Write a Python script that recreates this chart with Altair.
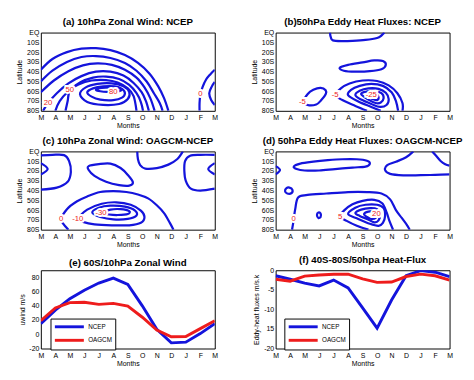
import json
import altair as alt
import pandas as pd

FONT = "Liberation Sans"
BLUE = "#1414dc"
RED = "#ee1c1c"

# ---------------- axes / categories ----------------
MONTHS = ["M", "A", "M", "J", "J", "A", "S", "O", "N", "D", "J", "F", "M"]
MONTH_IDX = list(range(13))
LAT_VALUES = [0, 10, 20, 30, 40, 50, 60, 70, 80]
LAT_LABELS = ["EQ", "10S", "20S", "30S", "40S", "50S", "60S", "70S", "80S"]
SERIES = ["NCEP", "OAGCM"]

TITLE_A = "(a) 10hPa Zonal Wind: NCEP"
TITLE_B = "(b)50hPa Eddy Heat Fluxes: NCEP"
TITLE_C = "(c) 10hPa Zonal Wind: OAGCM-NCEP"
TITLE_D = "(d) 50hPa Eddy Heat Fluxes: OAGCM-NCEP"
TITLE_E = "(e) 60S/10hPa Zonal Wind"
TITLE_F = "(f) 40S-80S/50hpa Heat-Flux"

# ---------------- line panels ----------------
E_NCEP = [15, 34, 50, 62, 72, 79, 70, 40, 7, -12, -11, 1, 15]
E_OAGCM = [19, 37, 44.5, 45, 42, 43.5, 39.5, 24, 6, -3.5, -3, 8, 19]
E_TICKS = [-20, 0, 20, 40, 60, 80]
E_TICK_LABELS = ["-20", "0", "20", "40", "60", "80"]

F_NCEP = [-1.4, -2.3, -3.3, -4.0, -2.5, -4.5, -9.6, -14.8, -7.6, -1.4, -0.1, -0.5, -1.6]
F_OAGCM = [-2.3, -2.8, -1.5, -1.2, -1.0, -1.0, -2.2, -3.1, -3.0, -1.6, -1.0, -1.4, -2.5]
F_TICKS = [0, -5, -10, -15, -20]
F_TICK_LABELS = ["0", "-5", "-10", "15", "-20"]

# ---------------- contour lines (month index, degrees south) ----------------
A_OPEN = [
    [(0, 38), (0.8, 27), (1.8, 20), (2.8, 16.5), (3.8, 16), (4.8, 18), (5.8, 23), (6.7, 31), (7.5, 42), (8.1, 55), (8.5, 67), (8.8, 80)],
    [(0, 50), (0.8, 39), (1.8, 30), (2.8, 25), (3.8, 24), (4.8, 26), (5.8, 31), (6.6, 39), (7.3, 50), (7.8, 62), (8.2, 72), (8.4, 80)],
    [(0, 61), (0.9, 49), (1.9, 39.5), (2.9, 33.5), (3.9, 31.5), (4.9, 33), (5.8, 38), (6.6, 46), (7.15, 56), (7.55, 67), (7.85, 80)],
    [(0.15, 80), (0.5, 72), (1.1, 62), (1.9, 52), (2.8, 44.5), (3.8, 40), (4.8, 40), (5.7, 44), (6.4, 51.5), (6.95, 61), (7.25, 70), (7.45, 80)],
    [(1.0, 80), (1.3, 70), (1.9, 60), (2.7, 51), (3.6, 46), (4.5, 45), (5.4, 47.5), (6.1, 53.5), (6.6, 62), (6.9, 71), (7.05, 80)],
    [(1.7, 80), (1.85, 70), (2.0, 59), (2.6, 53), (3.5, 49), (4.5, 48.5), (5.3, 51), (6.0, 57), (6.4, 65), (6.6, 80)],
    [(12, 38), (11.7, 42.5), (11.4, 48), (11.15, 56), (11.0, 64), (10.95, 72), (10.95, 80)],
    [(12, 50.5), (11.8, 55), (11.62, 62), (11.75, 69), (12, 74)],
]
A_CLOSED = [
    [(2.7, 63), (3.1, 56), (3.9, 52.5), (4.9, 52), (5.7, 55), (6.1, 61), (6.0, 68), (5.4, 73), (4.3, 74), (3.2, 71)],
    [(3.2, 61), (3.6, 57), (4.3, 55), (5.1, 55), (5.6, 57.5), (5.8, 62), (5.6, 66.5), (5.0, 69), (4.1, 68.5), (3.5, 65.5)],
    [(3.8, 58.5), (4.2, 56.5), (4.9, 56), (5.4, 57), (5.55, 59), (5.2, 60.5), (4.6, 60.7), (4.1, 60)],
]
A_LABELS = [("50", 2.0, 59), ("80", 5.0, 60.5), ("20", 0.5, 72), ("0", 11.0, 63)]

B_OPEN = [
    [(3.75, 0), (3.8, 4.5), (3.95, 8), (4.6, 8.8), (5.3, 8.5), (6.2, 7.5), (7.0, 5.5), (7.3, 3), (7.5, 0)],
    [(6.3, 80), (5.5, 75), (4.6, 69), (4.15, 64), (4.5, 57), (5.1, 52), (6.0, 49), (7.0, 49.5), (7.8, 54), (8.4, 62), (8.75, 72), (8.75, 80)],
    [(7.25, 80), (6.6, 76), (5.7, 70.5), (5.0, 64), (5.2, 58.5), (5.8, 54.5), (6.6, 52.5), (7.4, 54.5), (8.0, 61), (8.3, 70), (8.45, 80)],
]
B_CLOSED = [
    [(4.42, 36), (5.0, 33), (6.0, 30.5), (6.8, 28.5), (7.4, 29), (7.6, 33), (7.3, 37.5), (6.5, 39.5), (5.5, 40), (4.7, 39)],
    [(1.95, 70), (2.2, 63), (2.6, 58.5), (3.1, 56.5), (3.45, 59), (3.45, 63), (3.15, 69), (2.8, 73.5), (2.2, 74)],
    [(5.5, 64), (5.8, 59.5), (6.4, 57), (7.1, 57.5), (7.6, 61.5), (7.8, 68), (7.65, 74), (7.2, 76), (6.6, 73), (5.9, 68.5)],
    [(5.9, 63), (6.2, 60.5), (6.8, 59.5), (7.3, 62), (7.45, 67), (7.25, 71.5), (6.9, 72), (6.4, 68.5)],
    [(6.35, 64), (6.6, 62.5), (6.95, 63), (7.1, 66), (7.0, 69), (6.7, 68), (6.45, 66)],
]
B_LABELS = [("-5", 1.85, 71.5), ("-5", 4.1, 64), ("-25", 6.6, 64)]

C_OPEN = [
    [(0, 4), (0.8, 3.5), (1.6, 3.8), (1.95, 10), (2.07, 21), (1.85, 31), (1.1, 37), (0, 39)],
    [(0, 12), (0.47, 18), (0, 23.5)],
    [(6.65, 0), (6.7, 8), (6.85, 14), (7.2, 17.5), (8.0, 17), (8.8, 13.5), (9.4, 8), (9.8, 0)],
    [(12, 3.5), (11, 3.5), (10.3, 4.5), (9.95, 10), (9.9, 20), (10.0, 30), (10.35, 38), (11.0, 40), (12, 38)],
    [(12, 12), (11.55, 18), (12, 23.5)],
    [(1.9, 80), (1.55, 74), (1.4, 69), (1.8, 59), (2.5, 51), (3.2, 46), (4.1, 41.5), (5.0, 40.5), (5.9, 41.5), (6.7, 44), (7.4, 48), (8.0, 55), (8.5, 63), (8.9, 73), (9.15, 80)],
]
C_CLOSED = [
    [(3.3, 15), (4.0, 13), (4.8, 12.5), (5.5, 17), (6.0, 24), (6.35, 31.5), (6.1, 35), (5.4, 34.5), (4.5, 31), (3.7, 25), (3.3, 19)],
    [(2.55, 69), (3.2, 59.5), (4.2, 53.5), (5.2, 52), (6.2, 54.5), (6.9, 60.5), (7.15, 67), (6.9, 73), (6.1, 75.5), (4.9, 75.5), (3.7, 74.5), (2.9, 72)],
    [(3.55, 62.5), (4.0, 57.5), (4.8, 55.5), (5.8, 56.5), (6.5, 60.5), (6.6, 65.5), (6.0, 69), (5.0, 69.5), (4.1, 67)],
    [(4.2, 63), (4.8, 59.5), (5.5, 59), (6.1, 61), (6.0, 64), (5.3, 65), (4.7, 64.5)],
]
C_LABELS = [("0", 1.4, 69), ("-10", 2.55, 69), ("-30", 4.15, 63.5)]

D_OPEN = [
    [(0, 15), (0.3, 19), (0, 23.5)],
    [(9.5, 0), (9.0, 6), (8.3, 10.5), (7.7, 14), (7.55, 19), (7.9, 23), (8.8, 24.5), (10, 24.3), (11, 24), (12, 23.5)],
    [(10.8, 0), (11.1, 5), (11.4, 10), (11.7, 13), (12, 14.5)],
    [(1.13, 80), (1.2, 74), (1.25, 69), (1.35, 59), (1.55, 47), (2.2, 44.5), (3.5, 43), (5.0, 41.5), (6.3, 41.5), (7.3, 43), (7.9, 49), (8.3, 60), (8.7, 68), (9.05, 75), (9.25, 80)],
    [(6.4, 80), (5.6, 76), (4.9, 71), (4.45, 66.5), (4.75, 60), (5.3, 54), (6.0, 50.5), (6.8, 49.5), (7.35, 53), (7.65, 62), (7.85, 71), (8.1, 80)],
]
D_CLOSED = [
    [(1.25, 15.5), (1.7, 12.5), (2.6, 10.5), (3.6, 9), (4.6, 8), (5.6, 8), (6.3, 9.5), (6.5, 12.5), (6.2, 15.5), (5.3, 16.5), (4.1, 18), (3.0, 19.5), (2.0, 19.5), (1.45, 18)],
    [(0.65, 40.5), (0.75, 37.5), (0.95, 37), (1.15, 39), (1.1, 42.5), (0.8, 43)],
    [(2.85, 65), (2.95, 62.5), (3.1, 63.5), (3.1, 67), (2.95, 68)],
    [(5.0, 64), (5.5, 57.5), (6.2, 54.5), (7.0, 54.5), (7.45, 58), (7.55, 66), (7.4, 73), (7.1, 76), (6.5, 74), (5.7, 69)],
    [(5.5, 63), (5.9, 59.5), (6.5, 58), (7.0, 59), (7.2, 64), (7.1, 70.5), (6.8, 72.5), (6.3, 69), (5.8, 66)],
    [(6.1, 64), (6.4, 61.5), (6.8, 61.5), (7.0, 64), (6.9, 68), (6.6, 69), (6.3, 67)],
]
D_LABELS = [("0", 1.24, 69), ("5", 4.45, 66.7), ("20", 6.95, 64)]


# ---------------- helpers ----------------
def contour_frame(curves):
    rows = []
    for cid, pts in enumerate(curves):
        for idx, (m, lat) in enumerate(pts):
            rows.append({"cid": cid, "idx": idx, "m": m, "lat": lat})
    return pd.DataFrame(rows)


def lookup_expr(labels, index_expr):
    return json.dumps(labels) + "[" + index_expr + "]"


X_SCALE = alt.Scale(domain=[0, 12], nice=False, zero=False)
X_AXIS = alt.Axis(values=MONTH_IDX, labelExpr=lookup_expr(MONTHS, "round(datum.value)"),
                  title="Months", labelFlush=False, labelOverlap=False,
                  labelPadding=3, titlePadding=1)
LAT_AXIS = alt.Axis(values=LAT_VALUES, labelExpr=lookup_expr(LAT_LABELS, "round(datum.value/10)"),
                    title="Latitude", labelOverlap=False, labelPadding=2, titlePadding=3)
LAT_SCALE = alt.Scale(domain=[0, 80], reverse=True, nice=False, zero=False)

# short horizontal stroke used as the legend swatch (scaled by symbolSize)
LEGEND_SWATCH = "M-3.75,0L3.75,0"


def contour_panel(title, open_curves, closed_curves, labels):
    x = alt.X("m:Q", scale=X_SCALE, axis=X_AXIS)
    y = alt.Y("lat:Q", scale=LAT_SCALE, axis=LAT_AXIS)
    lab_df = pd.DataFrame(labels, columns=["text", "m", "lat"])
    open_layer = alt.Chart(contour_frame(open_curves)).mark_line(
        interpolate="cardinal", color=BLUE, strokeWidth=2.3, clip=True
    ).encode(x=x, y=y, detail="cid:N", order="idx:Q")
    closed_layer = alt.Chart(contour_frame(closed_curves)).mark_line(
        interpolate="cardinal-closed", color=BLUE, strokeWidth=2.3, clip=True
    ).encode(x=x, y=y, detail="cid:N", order="idx:Q")
    halo = alt.Chart(lab_df).mark_text(
        font=FONT, fontSize=8, color="white", stroke="white", strokeWidth=4
    ).encode(x=x, y=y, text="text:N")
    text = alt.Chart(lab_df).mark_text(font=FONT, fontSize=8, color=RED).encode(
        x=x, y=y, text="text:N")
    return alt.layer(open_layer, closed_layer, halo, text).properties(
        width=180, height=81, title=title)


def line_panel(title, ncep, oagcm, ticks, tick_labels, domain, ytitle, idx_expr, legend_x):
    df = pd.DataFrame({
        "m": MONTH_IDX * 2,
        "v": list(ncep) + list(oagcm),
        "series": [SERIES[0]] * len(ncep) + [SERIES[1]] * len(oagcm),
    })
    return alt.Chart(df).mark_line(strokeWidth=3, clip=True).encode(
        x=alt.X("m:Q", scale=X_SCALE, axis=X_AXIS),
        y=alt.Y("v:Q", scale=alt.Scale(domain=domain, nice=False, zero=False),
                axis=alt.Axis(values=ticks, labelExpr=lookup_expr(tick_labels, idx_expr),
                              title=ytitle, labelOverlap=False, labelPadding=2, titlePadding=3)),
        color=alt.Color("series:N", scale=alt.Scale(domain=SERIES, range=[BLUE, RED]),
                        legend=alt.Legend(title=None, orient="none", legendX=legend_x, legendY=50,
                                          direction="vertical", symbolType=LEGEND_SWATCH,
                                          symbolSize=64, symbolStrokeWidth=3,
                                          symbolOffset=11, labelOffset=14,
                                          labelFont=FONT, labelFontSize=6.5, labelColor="black",
                                          strokeColor="black", fillColor="white", padding=3,
                                          rowPadding=1)),
    ).properties(width=180, height=81, title=title)


pa = contour_panel(TITLE_A, A_OPEN, A_CLOSED, A_LABELS)
pb = contour_panel(TITLE_B, B_OPEN, B_CLOSED, B_LABELS)
pc = contour_panel(TITLE_C, C_OPEN, C_CLOSED, C_LABELS)
pd_ = contour_panel(TITLE_D, D_OPEN, D_CLOSED, D_LABELS)
pe = line_panel(TITLE_E, E_NCEP, E_OAGCM, E_TICKS, E_TICK_LABELS, [-20, 90], "uwind m/s",
                "round((datum.value+20)/20)", 10)
pf = line_panel(TITLE_F, F_NCEP, F_OAGCM, F_TICKS, F_TICK_LABELS, [-20, 0],
                "Eddy-heat fluxes m/s.k", "round(-datum.value/5)", 9)

chart = alt.concat(pa, pb, pc, pd_, pe, pf, columns=2, spacing={"row": 6, "column": 32}).resolve_scale(
    color="independent").resolve_legend(color="independent").properties(
    padding={"left": 7, "top": 2, "right": 3, "bottom": 3}
).configure_view(stroke="black", strokeWidth=1).configure_axis(
    grid=False, domain=False, ticks=False, labelFont=FONT, titleFont=FONT,
    labelFontSize=7.2, titleFontSize=7.2, titleFontWeight="normal",
    labelColor="black", titleColor="black"
).configure_title(font=FONT, fontSize=10, fontWeight="bold", offset=2, color="black")

chart.save("out.html", embed_options={"renderer": "svg", "actions": False})
